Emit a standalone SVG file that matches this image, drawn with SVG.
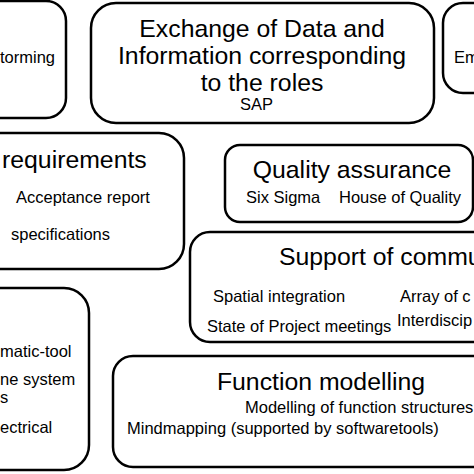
<svg xmlns="http://www.w3.org/2000/svg" width="474" height="474" viewBox="0 0 474 474">
<style>
  .box { fill: #ffffff; stroke: #000000; stroke-width: 2.5; }
  .h { font-family: "Liberation Sans", Arial, sans-serif; font-size: 24.8px; fill: #000000; }
  .t { font-family: "Liberation Sans", Arial, sans-serif; font-size: 16.5px; fill: #000000; }
  .m { text-anchor: middle; }
</style>
<rect x="0" y="0" width="474" height="474" fill="#ffffff"/>
<g id="connectors"></g>
<g id="node-brainstorming">
  <rect class="box" x="-40" y="1" width="106" height="117" rx="20"/>
  <text class="t" x="0" y="63">torming</text>
</g>
<g id="node-exchange">
  <rect class="box" x="91" y="3" width="343" height="120" rx="25"/>
  <text class="h m" x="262" y="37">Exchange of Data and</text>
  <text class="h m" x="262" y="64">Information corresponding</text>
  <text class="h m" x="262" y="91">to the roles</text>
  <text class="t" x="240" y="110">SAP</text>
</g>
<g id="node-em">
  <rect class="box" x="443" y="3" width="80" height="90" rx="20"/>
  <text class="t" x="454" y="63">Em</text>
</g>
<g id="node-requirements">
  <rect class="box" x="-40" y="133" width="224" height="136" rx="25"/>
  <text class="h" x="2" y="168">requirements</text>
  <text class="t" x="16" y="203">Acceptance report</text>
  <text class="t" x="11" y="240">specifications</text>
</g>
<g id="node-quality">
  <rect class="box" x="225" y="145" width="248" height="77" rx="15"/>
  <text class="h m" x="352" y="178">Quality assurance</text>
  <text class="t" x="246" y="203">Six Sigma</text>
  <text class="t" x="339" y="203">House of Quality</text>
</g>
<g id="node-support">
  <rect class="box" x="190" y="232" width="320" height="110" rx="20"/>
  <text class="h" x="279" y="265">Support of commu</text>
  <text class="t" x="213" y="302">Spatial integration</text>
  <text class="t" x="207" y="332">State of Project meetings</text>
  <text class="t" x="400" y="302">Array of c</text>
  <text class="t" x="397" y="326">Interdiscip</text>
</g>
<g id="node-tools">
  <rect class="box" x="-40" y="288" width="129" height="182" rx="25"/>
  <text class="t" x="0" y="357">matic-tool</text>
  <text class="t" x="0" y="385">ne system</text>
  <text class="t" x="0" y="403">s</text>
  <text class="t" x="0" y="433">ectrical</text>
</g>
<g id="node-function">
  <rect class="box" x="113" y="356" width="400" height="111" rx="20"/>
  <text class="h m" x="321" y="390">Function modelling</text>
  <text class="t" x="245" y="413">Modelling of function structures</text>
  <text class="t" x="127" y="434">Mindmapping (supported by softwaretools)</text>
</g>
</svg>
